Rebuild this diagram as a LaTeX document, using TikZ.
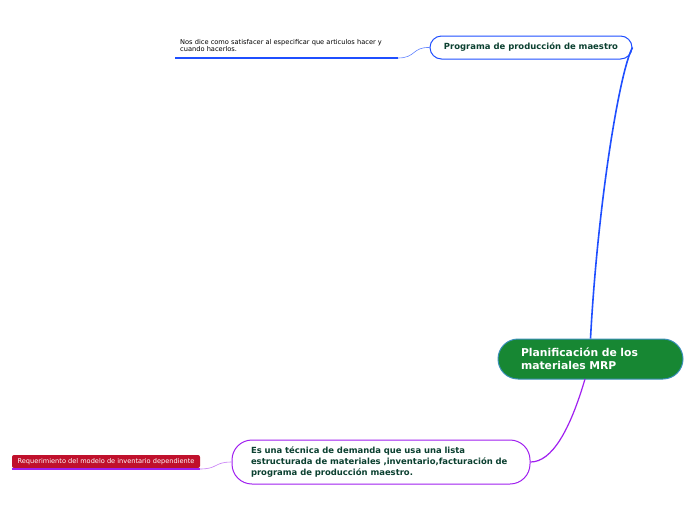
\documentclass[tikz,border=0pt]{standalone}
\usepackage{fontspec}
\setmainfont{DejaVu Sans}
\definecolor{mgreen}{HTML}{178733}
\definecolor{mteal}{HTML}{3A8FB8}
\definecolor{mblue}{HTML}{1F4FFF}
\definecolor{mpurple}{HTML}{A020F0}
\definecolor{mtext}{HTML}{0B4030}
\definecolor{mred}{HTML}{C0102C}
\begin{document}
\begin{tikzpicture}[x=1pt,y=-1pt,
  central/.style={draw=mteal,line width=1pt,fill=mgreen,rounded corners=20pt,minimum width=185pt,minimum height=40pt,inner sep=0pt,text width=139pt,align=left,text=white,font=\fontsize{10.8}{13}\selectfont\bfseries},
  topic/.style={draw=#1,line width=1pt,fill=white,inner sep=0pt,text=mtext,font=\fontsize{8.45}{11}\selectfont\bfseries},
  note/.style={inner sep=0pt,align=left,font=\fontsize{6.65}{7.6}\selectfont,text=black},
  tag/.style={fill=mred,rounded corners=2pt,inner sep=0pt,minimum width=188pt,minimum height=13pt,text=white,font=\fontsize{6.6}{7}\selectfont}
]
\useasboundingbox[fill=white] (0,0) rectangle (696,520);
\node[central] (c) at (590.5,359) {Planificación de los\\materiales MRP};
\node[topic=mblue,rounded corners=11.5pt,minimum width=202pt,minimum height=23pt] (p) at (531,47.5) {Programa de producción de maestro};
\node[topic=mpurple,rounded corners=20pt,minimum width=298pt,minimum height=44pt,text width=260pt,align=left] (e) at (381,462) {Es una técnica de demanda que usa una lista\\estructurada de materiales ,inventario,facturación de\\programa de producción maestro.};
\node[note,anchor=north west] (n) at (180,39) {Nos dice como satisfacer al especificar que articulos hacer y\\cuando hacerlos.};
\node[tag] (r) at (106,461.5) {Requerimiento del modelo de inventario dependiente};
\coordinate (nl) at (175,58);
\coordinate (nr) at (398,58);
\coordinate (rl) at (12,469);
\coordinate (rr) at (200,469);
\draw[mblue,line width=1.6pt] (c.north) .. controls (598,200) and (620,70) .. (p.east);
\draw[mpurple,line width=1.2pt] (585,379) .. controls (570,430) and (552,462) .. (e.east);
\draw[mblue,line width=1.5pt] (nl) -- (nr);
\draw[mblue!70,line width=0.6pt] (nr) .. controls (416,58) and (412,47) .. (p.west);
\draw[mpurple,line width=1.5pt] (rl) -- (rr);
\draw[mpurple!60,line width=0.6pt] (rr) .. controls (218,469) and (214,462) .. (e.west);
\end{tikzpicture}
\end{document}
